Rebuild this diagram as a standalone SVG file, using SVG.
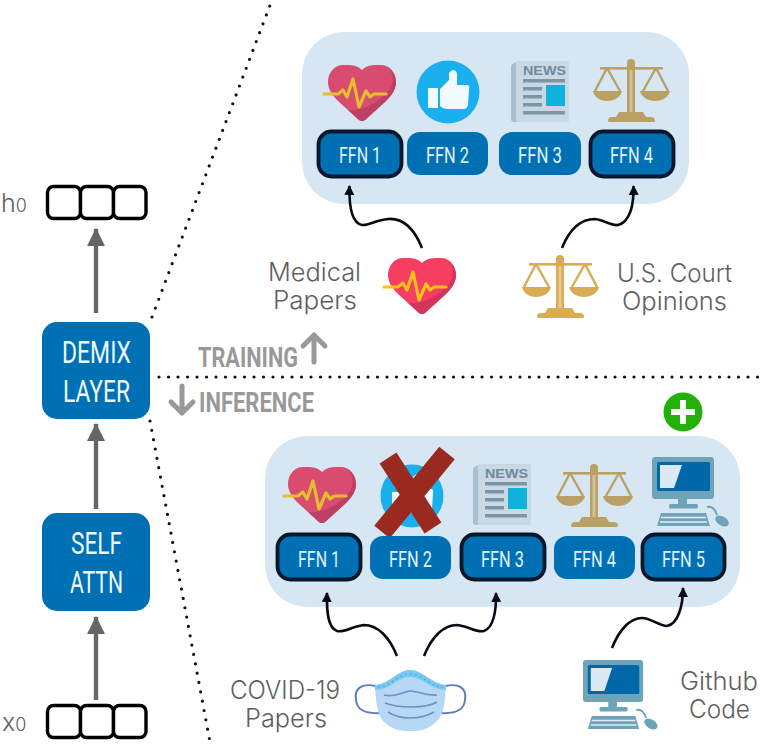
<svg xmlns="http://www.w3.org/2000/svg" width="766" height="748" viewBox="0 0 766 748">
<style>
.panel{fill:#d6e7f3}
.ffn{fill:#0070b5}
.sel{fill:#0070b5;stroke:#08182c;stroke-width:3.8}
.ffnt{font-family:Roboto,"Liberation Sans",sans-serif;font-size:22px;font-weight:400;fill:#e2f2f9}
.blockt{font-family:Roboto,"Liberation Sans",sans-serif;font-size:31px;font-weight:400;fill:#eef8fc}
.lab{font-family:Inter,"Open Sans",sans-serif;font-size:25px;font-weight:300;fill:#5f5f5f}
.sec{font-family:Roboto,"Liberation Sans",sans-serif;font-size:28px;font-weight:700;fill:#999}
.secarrow{fill:none;stroke:#999;stroke-width:5;stroke-linecap:round;stroke-linejoin:round}
.dot{fill:none;stroke:#111;stroke-width:3.2;stroke-linecap:round;stroke-dasharray:0 9.5}
.flow{fill:none;stroke:#0a0a14;stroke-width:2.6;marker-end:url(#blk)}
.up{fill:none;stroke:#666;stroke-width:4.4;marker-end:url(#gry)}
.cell{fill:#fff;stroke:#000;stroke-width:3.4}
.dull{--h:#d94c70;--s:#bd4062;--y:#e6bd2c}
</style>
<defs>
<marker id="blk" markerUnits="userSpaceOnUse" markerWidth="12" markerHeight="12" refX="9" refY="5.5" orient="auto"><path d="M0 .5L10 5.5L0 10.5Z" fill="#0a0a14"/></marker>
<marker id="gry" markerUnits="userSpaceOnUse" markerWidth="20" markerHeight="20" refX="17" refY="9" orient="auto"><path d="M0 0L18 9L0 18Z" fill="#666"/></marker>
<g id="heart">
<path d="M0 5C-6-1-13 0-19 0C-28 0-34 8-34 17C-34 24-30 30-24 36L-3 55Q0 57 3 55L24 36C30 30 34 24 34 17C34 8 28 0 19 0C13 0 6-1 0 5Z" style="fill:var(--h,#f63f60)"/>
<path d="M26 3C32 8 33 20 25 28C15 38 0 47-14 45L-3 55Q0 57 3 55L24 36C30 30 34 24 34 17C34 11 31 6 26 3Z" style="fill:var(--s,#d5345a)"/>
<path d="M-38 29L-24 29L-19 25L-15 32L-9 14L-3 42L4 26L8 32L12 29L24 29" fill="none" style="stroke:var(--y,#fdc11a)" stroke-width="3.2" stroke-linejoin="round" stroke-linecap="round"/>
</g>
<g id="thumb">
<circle r="31.5" fill="#1ab0ee"/>
<rect x="-20" y="-4" width="10" height="20" fill="#f1fafe"/>
<path d="M-8-3L1-12L1-19Q6-25 9-19L9-7L19-7Q22-7 21-3L20 13Q19 17 16 17L0 17Q-5 17-8 14Z" fill="#f1fafe"/>
</g>
<g id="news">
<path d="M0 6Q0 4 3 3L9 1L9 62L3 62Q0 62 0 59Z" fill="#a9c0d0"/>
<rect x="5" y="1" width="53" height="61" rx="1.500" fill="#c9d8e3"/>
<text x="12" y="15" font-family="'Liberation Sans',sans-serif" font-size="13.500" font-weight="700" fill="#6f8a9c" textLength="43" lengthAdjust="spacingAndGlyphs">NEWS</text>
<path d="M12 19H54v3.500H12zM12 27H31v3.500H12zM12 35H31v3.500H12zM12 43H31v3.500H12zM12 51H54v3.500H12z" fill="#7d95a6"/>
<rect x="35" y="25" width="19" height="21" fill="#0fb2d8"/>
</g>
<g id="scales">
<circle cx="0" cy="4" r="4"/>
<rect x="-31" y="8" width="63" height="2.600"/>
<path d="M-4 5H4V53H-4Z"/>
<rect x="-1.500" y="11" width="3" height="42" fill="#fff" opacity=".35"/>
<path d="M-12 53H12L15 58H-15Z"/>
<path d="M-23 62Q-23 58-19 58H20Q24 58 24 62Q24 63 22 63H-21Q-23 63-23 62Z"/>
<path d="M-24 9L-36 32M-24 9L-11 32M25 9L12 32M25 9L37 32" fill="none" stroke="currentColor" stroke-width="2.400"/>
<path d="M-38 32H-9C-10 38-17 42-24 42C-31 42-37 38-38 32Z"/>
<path d="M9 32H39C38 38 31 42 24 42C17 42 10 38 9 32Z"/>
</g>
<g id="computer">
<rect width="62" height="42" rx="3" fill="#6da4ba"/>
<rect x="5" y="5" width="53" height="29" rx="1.500" fill="#0068a8"/>
<path d="M8 8H30L22 31H8Z" fill="#dbe9f5"/>
<path d="M26 42H35V48H26Z" fill="#6da4ba"/>
<rect x="17" y="47" width="29" height="4.500" rx="1.500" fill="#6da4ba"/>
<path d="M9 56H54L58 69H5Z" fill="#6da4ba"/>
<path d="M9 60.500H54M8 65H55" stroke="#e2eef4" stroke-width="1.400"/>
<path d="M55 50C60 49 63 52 65 58" fill="none" stroke="#6da4ba" stroke-width="2"/>
<ellipse cx="70" cy="64" rx="7.500" ry="4.500" transform="rotate(30 70 64)" fill="#6da4ba"/>
</g>
</defs>
<rect width="766" height="748" fill="#fff"/>

<g id="dividers">
<path class="dot" d="M152 317L272 0"/>
<path class="dot" d="M159 377H766"/>
<path class="dot" d="M150 421L210 742"/>
</g>

<g id="panel-top"><rect class="panel" x="302" y="32" width="387" height="172" rx="42"/></g>
<g id="panel-bottom"><rect class="panel" x="265" y="436" width="475" height="171" rx="42"/></g>

<g id="connectors">
<path class="up" d="M96 313V229"/>
<path class="up" d="M96 509V424"/>
<path class="up" d="M96 700V617"/>
<path class="flow" d="M422 248C414 228 402 218 388 219C376 220 368 226 362 225C352 223 349 206 349.500 186"/>
<path class="flow" d="M562 248C570 228 582 219 595 219C604 220 611 226 618 225C630 222 634 205 633.500 186"/>
<path class="flow" d="M397 656C389 636 377 625 364 625C352 626 345 633 337 631C328 628 326.500 612 327 593"/>
<path class="flow" d="M424 656C432 636 444 625 457 625C469 626 476 633 484 631C493 628 496.500 612 496 593"/>
<path class="flow" d="M612 648C619 630 630 618 642 618C651 618 659 626 667 626C678 624 683 606 683 588"/>
</g>

<g id="vector-h0">
<rect class="cell" x="47.500" y="186.500" width="33" height="32" rx="6"/><rect class="cell" x="80.500" y="186.500" width="33" height="32" rx="6"/><rect class="cell" x="113.500" y="186.500" width="32.500" height="32" rx="6"/>
<text x="1" y="212" class="lab">h<tspan style="font-size:18px">0</tspan></text>
</g>
<g id="vector-x0">
<rect class="cell" x="47.500" y="705.500" width="33" height="32" rx="6"/><rect class="cell" x="80.500" y="705.500" width="33" height="32" rx="6"/><rect class="cell" x="113.500" y="705.500" width="32.500" height="32" rx="6"/>
<text x="2" y="731" class="lab">x<tspan style="font-size:18px">0</tspan></text>
</g>

<g id="demix-layer"><rect x="42" y="322" width="108" height="97" rx="15" fill="#0070b5"/>
<text class="blockt" x="62" y="363" textLength="69" lengthAdjust="spacingAndGlyphs">DEMIX</text>
<text class="blockt" x="63" y="402" textLength="67" lengthAdjust="spacingAndGlyphs">LAYER</text></g>
<g id="self-attn"><rect x="42" y="513" width="108" height="98" rx="15" fill="#0070b5"/>
<text class="blockt" x="71" y="554" textLength="51" lengthAdjust="spacingAndGlyphs">SELF</text>
<text class="blockt" x="70" y="593" textLength="53" lengthAdjust="spacingAndGlyphs">ATTN</text></g>

<g id="training"><text class="sec" x="198" y="367" textLength="100" lengthAdjust="spacingAndGlyphs">TRAINING</text>
<path class="secarrow" d="M314 362V335M303 346L314 335L325 346"/></g>
<g id="inference"><text class="sec" x="199" y="412" textLength="115" lengthAdjust="spacingAndGlyphs">INFERENCE</text>
<path class="secarrow" d="M182 386V413M171 402L182 413L193 402"/></g>

<g id="t-icon-heart" class="dull"><use href="#heart" transform="translate(362 65)"/></g>
<g id="t-icon-thumb"><use href="#thumb" transform="translate(448 92)"/></g>
<g id="t-icon-news"><use href="#news" transform="translate(511 60)"/></g>
<g id="t-icon-scales" fill="#b9a065" color="#b9a065"><use href="#scales" transform="translate(631 59)"/></g>
<g id="t-ffn1"><rect class="sel" x="318.500" y="131.500" width="83" height="45" rx="13"/><text class="ffnt" x="339" y="163" textLength="42" lengthAdjust="spacingAndGlyphs">FFN 1</text></g>
<g id="t-ffn2"><rect class="ffn" x="407" y="132" width="81" height="43" rx="13"/><text class="ffnt" x="426" y="163" textLength="43" lengthAdjust="spacingAndGlyphs">FFN 2</text></g>
<g id="t-ffn3"><rect class="ffn" x="499" y="132" width="82" height="43" rx="13"/><text class="ffnt" x="518" y="163" textLength="44" lengthAdjust="spacingAndGlyphs">FFN 3</text></g>
<g id="t-ffn4"><rect class="sel" x="590.500" y="131.500" width="83" height="45" rx="13"/><text class="ffnt" x="610" y="163" textLength="43" lengthAdjust="spacingAndGlyphs">FFN 4</text></g>

<g id="medical"><use href="#heart" transform="translate(422 258)"/>
<text class="lab" x="268" y="281" textLength="93" lengthAdjust="spacingAndGlyphs">Medical</text>
<text class="lab" x="273" y="309" textLength="84" lengthAdjust="spacingAndGlyphs">Papers</text></g>
<g id="court" fill="#d9ab55" color="#d9ab55"><use href="#scales" transform="translate(560 255)"/></g>
<g id="court-label"><text class="lab" x="617" y="282" textLength="115" lengthAdjust="spacingAndGlyphs">U.S. Court</text>
<text class="lab" x="622" y="310" textLength="105" lengthAdjust="spacingAndGlyphs">Opinions</text></g>

<g id="b-icon-heart" class="dull"><use href="#heart" transform="translate(322 467)"/></g>
<g id="b-icon-thumb"><use href="#thumb" transform="translate(412 496)"/>
<path d="M388 458L433 528M447 453L382 532" fill="none" stroke="#9a2a20" stroke-width="20"/></g>
<g id="b-icon-news"><use href="#news" transform="translate(473 463)"/></g>
<g id="b-icon-scales" fill="#b9a065" color="#b9a065"><use href="#scales" transform="translate(594 464)"/></g>
<g id="b-icon-computer"><use href="#computer" transform="translate(652 457)"/></g>
<g id="plus"><circle cx="683" cy="412" r="19.500" fill="#22b00a"/><path d="M683 400V424M671 412H695" stroke="#fff" stroke-width="6"/></g>
<g id="b-ffn1"><rect class="sel" x="277.500" y="534.500" width="83" height="45" rx="13"/><text class="ffnt" x="298" y="567" textLength="42" lengthAdjust="spacingAndGlyphs">FFN 1</text></g>
<g id="b-ffn2"><rect class="ffn" x="370" y="536" width="81" height="43" rx="13"/><text class="ffnt" x="389" y="567" textLength="43" lengthAdjust="spacingAndGlyphs">FFN 2</text></g>
<g id="b-ffn3"><rect class="sel" x="461.500" y="534.500" width="83" height="45" rx="13"/><text class="ffnt" x="481" y="567" textLength="43" lengthAdjust="spacingAndGlyphs">FFN 3</text></g>
<g id="b-ffn4"><rect class="ffn" x="554" y="536" width="81" height="43" rx="13"/><text class="ffnt" x="573" y="567" textLength="43" lengthAdjust="spacingAndGlyphs">FFN 4</text></g>
<g id="b-ffn5"><rect class="sel" x="642.500" y="534.500" width="82" height="45" rx="13"/><text class="ffnt" x="662" y="567" textLength="43" lengthAdjust="spacingAndGlyphs">FFN 5</text></g>

<g id="covid">
<path d="M376 686C362 683 354 688 356 700C357 711 366 714 381 713M445 686C459 683 467 688 465 700C464 711 455 714 440 713" fill="none" stroke="#5f7db8" stroke-width="2"/>
<path d="M375 685C390 684 398 670 410 670C422 670 432 684 446 685C445 700 445 712 437 721C428 730 420 731 410 731C400 731 392 730 383 721C376 712 376 700 375 685Z" fill="#b6d8f5"/>
<path d="M375 685C390 684 398 670 410 670C422 670 432 684 446 685L446 690C432 690 422 677 410 677C398 677 390 690 375 690Z" fill="#79c9ef"/>
<path d="M378 687C391 687 398 674 410 674C422 674 431 687 443 687" fill="none" stroke="#4fb0e4" stroke-width="1.600" stroke-dasharray="2 3"/>
<path d="M384 695C395 698 405 691 410 691C418 691 425 696 437 695M385 703C398 708 425 709 437 702M388 712C400 720 420 720 434 712" fill="none" stroke="#6e8fc0" stroke-width="1.600"/>
<text class="lab" x="230" y="699" textLength="110" lengthAdjust="spacingAndGlyphs">COVID-19</text>
<text class="lab" x="245" y="727" textLength="82" lengthAdjust="spacingAndGlyphs">Papers</text></g>
<g id="github"><use href="#computer" transform="translate(583 660) scale(.97 1)"/>
<text class="lab" x="680" y="690" textLength="78" lengthAdjust="spacingAndGlyphs">Github</text>
<text class="lab" x="689" y="718" textLength="61" lengthAdjust="spacingAndGlyphs">Code</text></g>
</svg>
